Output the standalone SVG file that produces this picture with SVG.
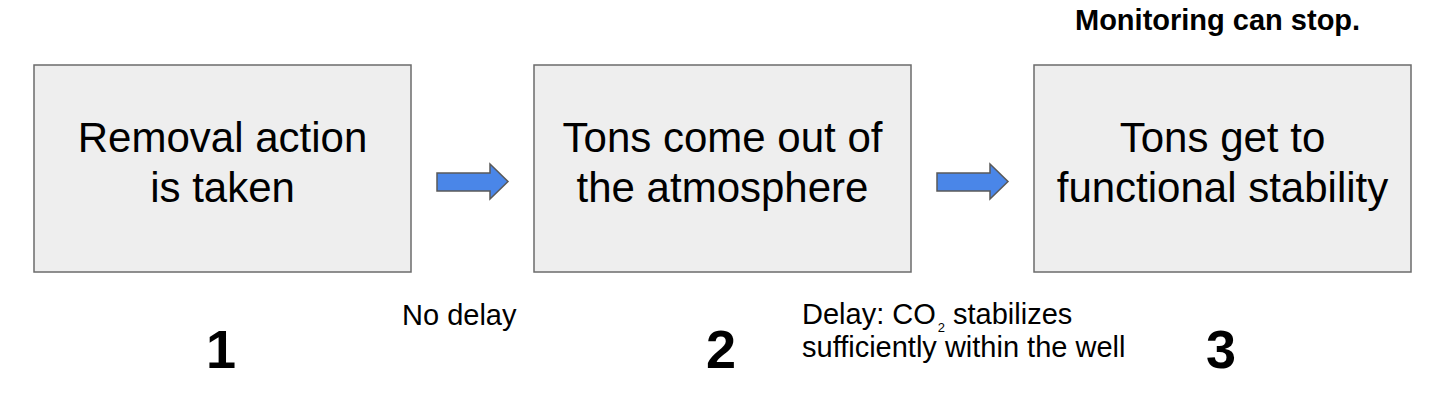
<svg xmlns="http://www.w3.org/2000/svg" width="1446" height="400" viewBox="0 0 1446 400">
<style>
.box{fill:#eeeeee;stroke:#6b6b6b;stroke-width:1.5}
.bt{font-family:"Liberation Sans",Arial,sans-serif;font-size:42px;fill:#000;text-anchor:middle}
.lab{font-family:"Liberation Sans",Arial,sans-serif;font-size:29px;fill:#000}
.num{font-family:"Liberation Sans",Arial,sans-serif;font-size:54px;font-weight:bold;fill:#000;text-anchor:middle}
.arrow{fill:#4a86e8;stroke:#595959;stroke-width:1.5}
</style>
<rect width="1446" height="400" fill="#ffffff"/>
<g id="node1">
<rect class="box" x="34" y="65" width="377" height="207"/>
<text class="bt" x="222.5" y="152">Removal action</text>
<text class="bt" x="222.5" y="202">is taken</text>
</g>
<g id="node2">
<rect class="box" x="534" y="65" width="377" height="207"/>
<text class="bt" x="722.5" y="152">Tons come out of</text>
<text class="bt" x="722.5" y="202">the atmosphere</text>
</g>
<g id="node3">
<rect class="box" x="1034" y="65" width="377" height="207"/>
<text class="bt" x="1222.5" y="152">Tons get to</text>
<text class="bt" x="1222.5" y="202">functional stability</text>
</g>
<g id="connectors">
<path class="arrow" d="M437,173 L490,173 L490,164 L508,181.5 L490,199 L490,191 L437,191 Z"/>
<path class="arrow" d="M937,173 L990,173 L990,164 L1008,181.5 L990,199 L990,191 L937,191 Z"/>
</g>
<g id="labels">
<text class="lab" x="402" y="325">No delay</text>
<text class="lab" x="802" y="324">Delay: CO<tspan font-size="13" dx="2" dy="8">2</tspan><tspan dy="-8"> stabilizes</tspan></text>
<text class="lab" x="802" y="357">sufficiently within the well</text>
<text class="lab" x="1075" y="30" font-weight="bold" font-size="29.5">Monitoring can stop.</text>
<text class="num" x="221" y="368">1</text>
<text class="num" x="721" y="368">2</text>
<text class="num" x="1221" y="368">3</text>
</g>
</svg>
